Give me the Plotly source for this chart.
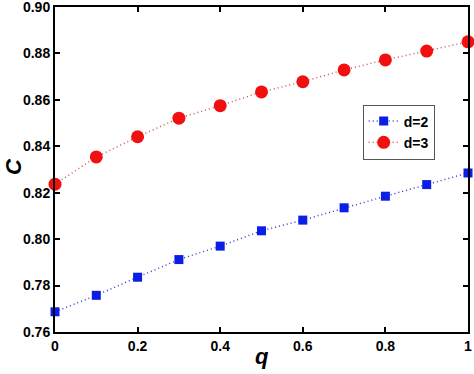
import plotly.graph_objects as go

q = [0.0, 0.1, 0.2, 0.3, 0.4, 0.5, 0.6, 0.7, 0.8, 0.9, 1.0]
c_d2 = [0.7687, 0.7758, 0.7836, 0.7912, 0.7970, 0.8036, 0.8082, 0.8135, 0.8185, 0.8235, 0.8285]
c_d3 = [0.8237, 0.8354, 0.8441, 0.8521, 0.8575, 0.8634, 0.8678, 0.8729, 0.8772, 0.8810, 0.8850]
x_ticks = [0, 0.2, 0.4, 0.6, 0.8, 1]
x_ticklabels = ["0", "0.2", "0.4", "0.6", "0.8", "1"]
y_ticks = [0.76, 0.78, 0.80, 0.82, 0.84, 0.86, 0.88, 0.90]
y_ticklabels = ["0.76", "0.78", "0.80", "0.82", "0.84", "0.86", "0.88", "0.90"]

fig = go.Figure()
fig.add_trace(go.Scatter(
    x=q, y=c_d2, name="d=2", mode="lines+markers",
    line=dict(color="#3b3bd0", width=1.5, dash="1px,3px"),
    marker=dict(symbol="square", size=9, color="#0a1ee6"),
    cliponaxis=False,
))
fig.add_trace(go.Scatter(
    x=q, y=c_d3, name="d=3", mode="lines+markers",
    line=dict(color="#d05050", width=1.5, dash="1px,3px"),
    marker=dict(symbol="circle", size=13, color="#f01010"),
    cliponaxis=False,
))

axis_common = dict(
    showline=True, linewidth=2, linecolor="black", mirror="ticks",
    ticks="inside", ticklen=5, tickwidth=1.5, tickcolor="black",
    showgrid=False, zeroline=False, automargin=False,
    ticklabeloverflow="allow",
    tickfont=dict(family="Liberation Sans, Arial", size=14, color="black", weight="bold"),
)

title_font = dict(family="Liberation Sans, Arial", size=22, color="black")

fig.update_layout(
    width=474, height=374,
    margin=dict(l=55, r=6, t=7, b=42),
    paper_bgcolor="white", plot_bgcolor="white",
    xaxis=dict(range=[0, 1], tickvals=x_ticks, ticktext=x_ticklabels, **axis_common),
    yaxis=dict(range=[0.76, 0.90], tickvals=y_ticks, ticktext=y_ticklabels, **axis_common),
    legend=dict(x=0.745, y=0.70, xanchor="left", yanchor="top",
                bordercolor="#555555", borderwidth=1, bgcolor="white",
                font=dict(family="Liberation Sans, Arial", size=14, color="black", weight="bold"),
                tracegroupgap=0, itemwidth=30),
    showlegend=True,
    annotations=[
        dict(text="<b><i>q</i></b>", xref="paper", yref="paper", x=0.5, y=-0.074,
             xanchor="center", yanchor="middle", showarrow=False, font=title_font),
        dict(text="<b><i>C</i></b>", xref="paper", yref="paper", x=-0.1, y=0.51,
             xanchor="center", yanchor="middle", showarrow=False, textangle=-90,
             font=title_font),
    ],
)

fig.write_html("out.html", config={"displayModeBar": False},
               post_script="document.body.style.margin='0';document.body.style.overflow='hidden';")
